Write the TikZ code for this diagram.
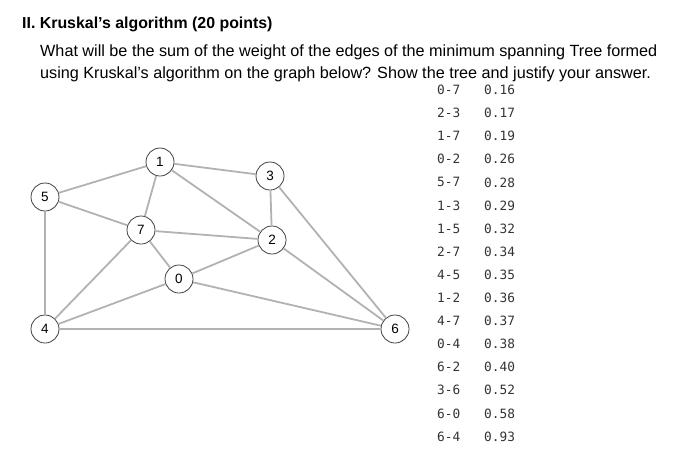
\documentclass[tikz,border=0pt]{standalone}
\usepackage{fontspec}
\setmainfont{Liberation Sans}
\newfontfamily\listfont{DejaVu Sans Mono}
\begin{document}
\begin{tikzpicture}[x=1pt,y=-1pt,
  vtx/.style={circle,draw=black!75,fill=white,line width=0.8pt,minimum size=28pt,inner sep=0pt,font=\fontsize{13.5}{13.5}\selectfont},
  edge/.style={draw=black!30,line width=1.8pt},
  lst/.style={anchor=west,inner sep=0pt,font=\listfont\fontsize{12.8}{12.8}\selectfont,text=black!80}]
\useasboundingbox (0,0) rectangle (698,451);
\node[anchor=base west,inner sep=0pt,font=\bfseries\fontsize{15.9}{15.9}\selectfont] (title) at (22,28) {II. Kruskal's algorithm (20 points)};
\node[anchor=base west,inner sep=0pt,font=\fontsize{16.2}{16.2}\selectfont] (l1) at (40,56) {What will be the sum of the weight of the edges of the minimum spanning Tree formed};
\node[anchor=base west,inner sep=0pt,font=\fontsize{16.2}{16.2}\selectfont] (l2) at (40,78) {using Kruskal's algorithm on the graph below? Show the tree and justify your answer.};
\foreach \e/\w [count=\i from 0] in {0-7/0.16,2-3/0.17,1-7/0.19,0-2/0.26,5-7/0.28,1-3/0.29,1-5/0.32,2-7/0.34,4-5/0.35,1-2/0.36,4-7/0.37,0-4/0.38,6-2/0.40,3-6/0.52,6-0/0.58,6-4/0.93}
  {\node[lst] (e\i) at (437,{90+\i*23.1}) {\e};
   \node[lst] (w\i) at (484,{90+\i*23.1}) {\w};}
\node[vtx] (v1) at (160,162) {1};
\node[vtx] (v3) at (270,176) {3};
\node[vtx] (v5) at (45,197) {5};
\node[vtx] (v7) at (141,230) {7};
\node[vtx] (v2) at (272,240) {2};
\node[vtx] (v0) at (179,279) {0};
\node[vtx] (v4) at (45,329) {4};
\node[vtx] (v6) at (395,329) {6};
\foreach \a/\b in {0/7,2/3,1/7,0/2,5/7,1/3,1/5,2/7,4/5,1/2,4/7,0/4,6/2,3/6,6/0,6/4}
  \draw[edge] (v\a) -- (v\b);
\end{tikzpicture}
\end{document}
